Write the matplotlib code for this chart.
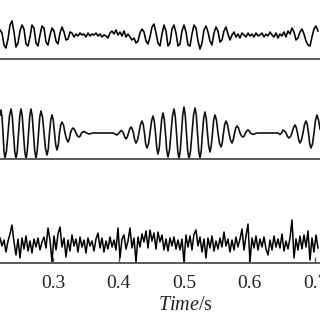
import numpy as np
import matplotlib
matplotlib.use("Agg")
import matplotlib.pyplot as plt

plt.rcParams['font.family'] = ['Liberation Serif', 'DejaVu Serif']
plt.rcParams['mathtext.fontset'] = 'custom'
plt.rcParams['mathtext.it'] = 'Liberation Serif:italic'
plt.rcParams['mathtext.rm'] = 'Liberation Serif'

# ---- data ----
t_start = 0.2185
t_end = 0.7078
dt_noise = 0.003058   # sample spacing for sampled traces

# top trace (sampled)
sig1 = [5, 2, -10, -13, -4, 10, 14, 3, -12, -8, 4, 10, 6, -9, -11, -2, 10, 7, -8, -11,
        0, 9, 7, -7, -10, 0, 7, 4, -6, -9, 2, 8, 3, -5, -4, 3, 2, -2, 1, -1,
        2, 0, 1, -2, 2, -1, 1, 0, 2, -1, 1, -2, 0, -1, -3, 2, 4, 1, 5, 0,
        3, -1, 4, -2, 1, -2, -5, -3, -8, -6, 2, 6, 3, -6, -9, -2, 8, 11, 2, -8,
        -11, 1, 10, 4, -11, -8, 6, 10, 2, -11, -9, 4, 10, 3, -10, -11, 1, 10, 7, -6,
        -14, -8, 5, 9, 3, -6, -10, 2, 8, 4, -7, -5, 4, 8, 1, -5, 0, 3, -2, 1,
        -3, 2, 0, -2, 2, -1, 1, -2, 2, -1, 0, 2, -2, 1, -1, 3, 0, -2, 2, -3,
        1, -1, 3, -2, 4, 1, 7, 3, -5, -3, 3, 6, 1, -6, -10, -11, -2, 6, 9, 4]

# middle trace (points read along the modulated wave)
t2 = [0.2185, 0.2200, 0.2215, 0.2231, 0.2246, 0.2261, 0.2284, 0.2307, 0.2330, 0.2353,
      0.2372, 0.2391, 0.2410, 0.2430, 0.2449, 0.2468, 0.2487, 0.2506, 0.2525, 0.2544,
      0.2563, 0.2583, 0.2602, 0.2621, 0.2640, 0.2659, 0.2678, 0.2697, 0.2716, 0.2735,
      0.2754, 0.2774, 0.2793, 0.2812, 0.2835, 0.2858, 0.2881, 0.2904, 0.2923, 0.2942,
      0.2961, 0.2980, 0.2999, 0.3018, 0.3037, 0.3057, 0.3076, 0.3095, 0.3114, 0.3133,
      0.3156, 0.3179, 0.3202, 0.3225, 0.3244, 0.3263, 0.3282, 0.3301, 0.3324, 0.3347,
      0.3370, 0.3393, 0.3412, 0.3431, 0.3450, 0.3469, 0.3488, 0.3508, 0.3546, 0.3607,
      0.3913, 0.3974, 0.4005, 0.4035, 0.4054, 0.4073, 0.4092, 0.4112, 0.4131, 0.4150,
      0.4169, 0.4188, 0.4207, 0.4226, 0.4245, 0.4264, 0.4287, 0.4310, 0.4333, 0.4356,
      0.4375, 0.4394, 0.4413, 0.4433, 0.4456, 0.4479, 0.4502, 0.4524, 0.4543, 0.4563,
      0.4582, 0.4601, 0.4620, 0.4639, 0.4658, 0.4677, 0.4696, 0.4715, 0.4734, 0.4754,
      0.4777, 0.4799, 0.4822, 0.4845, 0.4864, 0.4884, 0.4903, 0.4922, 0.4941, 0.4960,
      0.4979, 0.4998, 0.5017, 0.5036, 0.5055, 0.5075, 0.5098, 0.5121, 0.5144, 0.5167,
      0.5186, 0.5205, 0.5224, 0.5243, 0.5262, 0.5281, 0.5300, 0.5319, 0.5338, 0.5357,
      0.5376, 0.5396, 0.5415, 0.5434, 0.5453, 0.5472, 0.5495, 0.5518, 0.5541, 0.5564,
      0.5583, 0.5602, 0.5621, 0.5641, 0.5663, 0.5686, 0.5709, 0.5732, 0.5751, 0.5771,
      0.5790, 0.5809, 0.5832, 0.5855, 0.5878, 0.5901, 0.5920, 0.5939, 0.5958, 0.5977,
      0.5996, 0.6015, 0.6053, 0.6114, 0.6436, 0.6466, 0.6489, 0.6512, 0.6535, 0.6558,
      0.6581, 0.6604, 0.6627, 0.6650, 0.6673, 0.6696, 0.6715, 0.6734, 0.6753, 0.6772,
      0.6795, 0.6818, 0.6841, 0.6864, 0.6883, 0.6902, 0.6921, 0.6940, 0.6963, 0.6986,
      0.7009, 0.7032, 0.7055, 0.7078]
sig2 = [18, 23, 16, 0, -18, -25, -18, 0, 17, 24,
        17, 0, -18, -26, -18, 0, 17, 24, 17, 0,
        -18, -26, -18, 0, 17, 24, 17, 0, -18, -25,
        -18, 0, 16, 22, 16, 0, -16, -22, -16, 0,
        13, 18, 13, 0, -12, -17, -12, 0, 8, 11,
        8, 0, -6, -9, -6, 0, 3.5, 5, 3.5, 0,
        -3, -4, -3, 0, 1, 1.5, 1, 0, -1, 0,
        0, -2, 0, 2.5, 1.8, 0, -4, -6, -4, 0,
        4, 6, 4, 0, -7, -10, -7, 0, 8.5, 12,
        8.5, 0, -11, -15, -11, 0, 12, 17, 12, 0,
        -15, -21, -15, 0, 14, 20, 14, 0, -17, -24,
        -17, 0, 17, 24, 17, 0, -18, -26, -18, 0,
        18, 26, 18, 0, -18, -26, -18, 0, 18, 25,
        18, 0, -18, -25, -18, 0, 15, 21, 15, 0,
        -13, -19, -13, 0, 13, 18, 13, 0, -10, -14,
        -10, 0, 8.5, 12, 8.5, 0, -7, -10, -7, 0,
        5, 7, 5, 0, -3, -4, -3, 0, 2, 3,
        2, 0, -1.5, 0, 0, -1.5, 0, 3, 2, 0,
        -3.5, -5, -3.5, 0, 5.5, 8, 5.5, 0, -7, -10,
        -7, 0, 8.5, 12, 8.5, 0, -11, -15, -11, 0,
        13, 18, 13, 4]

# bottom trace (sampled)
sig3 = [6, -2, 4, -8, 3, 10, 19, 2, -11, 5, -14, 6, -5, 8, -7, 3, -9, 5, -3, 6,
        -6, 2, 7, -4, 16, 4, -18, 8, -6, 10, 17, -3, 6, -13, 4, -7, 9, -2, 5, -8,
        7, -3, 4, -9, 6, -2, 3, -7, 5, 11, -4, 6, -8, 3, -5, 7, -3, 4, -6, 16,
        -14, 5, 9, -5, 3, 16, -4, 6, -18, 7, -3, 10, 2, 13, -4, 14, 3, 11, -5, 12,
        2, 9, -6, 5, -7, 6, -2, 7, -5, 4, -6, 5, -18, 9, -3, 8, -6, 10, 14, -2,
        7, -8, 5, -14, 6, -4, 8, -7, 3, -5, 6, -3, 12, -2, 5, -8, 4, -6, 7, -3,
        5, 15, -6, 8, 20, -18, 6, -4, 8, -6, 5, -3, 7, -5, -11, 4, -6, 8, -3, 5,
        -4, 10, -7, 3, -5, 6, 24, -14, 5, -6, 8, -5, 9, -3, 13, -16, 6, -8, 9, -4]

xticks = [0.3, 0.4, 0.5, 0.6, 0.7]
xticklabels = ['0.3', '0.4', '0.5', '0.6', '0.7']
xlabel = r'$\mathit{Time}$/s'

n2 = min(len(t2), len(sig2))

# ---- figure ----
W = H = 320
fig = plt.figure(figsize=(3.2, 3.2), dpi=100)

def add_panel(top_px, bot_px, center_px):
    ax = fig.add_axes([0, 1 - bot_px / H, 1, (bot_px - top_px) / H])
    ax.set_xlim(t_start, t_end)
    ax.set_ylim(-(bot_px - center_px), center_px - top_px)
    for s in ['top', 'left', 'right']:
        ax.spines[s].set_visible(False)
    ax.spines['bottom'].set_color('#5a5a5a')
    ax.spines['bottom'].set_linewidth(1.4)
    ax.set_yticks([])
    ax.patch.set_alpha(0)
    return ax

ax1 = add_panel(0, 59, 35)
ax2 = add_panel(62, 159, 133)
ax3 = add_panel(165, 263, 244)

t1 = t_start + dt_noise * np.arange(len(sig1))
t3 = t_start + dt_noise * np.arange(len(sig3))

ax1.plot(t1, sig1, color='black', lw=1.15, clip_on=False)
ax2.plot(t2[:n2], sig2[:n2], color='#111111', lw=1.2, clip_on=False,
         solid_joinstyle='round')
ax3.plot(t3, sig3, color='black', lw=1.1, clip_on=False)

for ax in (ax1, ax2):
    ax.set_xticks([])

ax3.set_xticks(xticks)
ax3.set_xticklabels(xticklabels)
ax3.tick_params(axis='x', direction='in', length=4, width=1.0, color='#5a5a5a',
                labelsize=14, pad=9, labelcolor='#222222')

fig.text(185 / W, 1 - 306 / H, xlabel, ha='center', va='center', fontsize=14.5,
         color='#222222')

fig.savefig('out.png', dpi=100)
